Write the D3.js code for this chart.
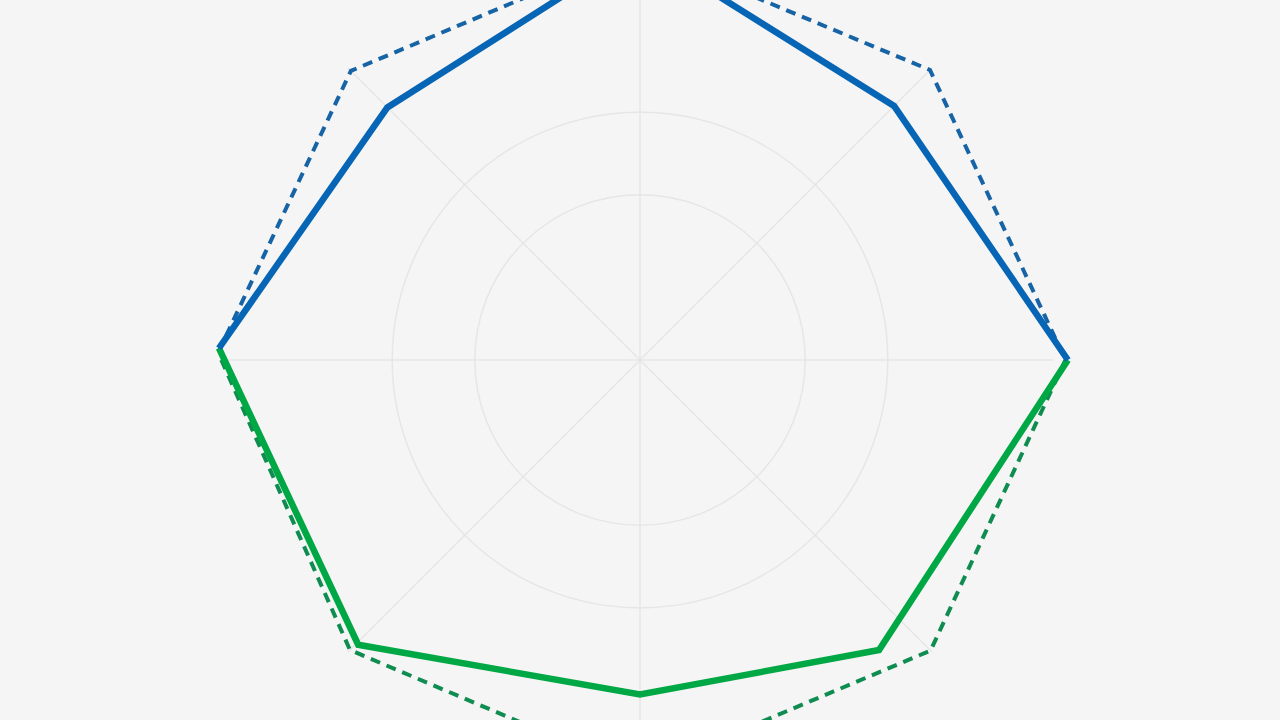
<!DOCTYPE html>
<meta charset="utf-8">
<style>
  html, body {
    margin: 0;
    padding: 0;
    background: #f5f5f5;
  }
  svg {
    display: block;
  }
</style>
<body>
<div class="radar"></div>
<script src="https://d3js.org/d3.v7.min.js"></script>
<script>

  // spokes and rings
  const axisAngles = [0, 45, 90, 135, 180, 225, 270, 315];
  const gridValues = [40, 60];
  const maxValue = 100;

  // upper half (blue), left -> top -> right, angle in degrees clockwise from top
  const blueAngles = [-88.4, -45, 0, 45, 90];
  const blueValues = [102, 86.5, 100, 87, 103.6];
  const blueTargetAngles = [-88.8, -45, 0, 45, 90];
  const blueTargetValues = [102, 99, 99.5, 99.3, 103];

  // lower half (green), right -> bottom -> left
  const greenAngles = [90, 140.5, 180, 224.7, 271.6];
  const greenValues = [103.6, 91, 81, 97, 102];
  const greenTargetAngles = [90, 135, 180, 225, 270.8];
  const greenTargetValues = [103, 99.5, 100, 99.3, 102];

  const width = 1280;
  const height = 720;
  const cx = 640;
  const cy = 360;

  const svg = d3.select(".radar").append("svg")
    .attr("width", width)
    .attr("height", height);

  svg.append("rect")
    .attr("width", width)
    .attr("height", height)
    .attr("fill", "#f5f5f5");

  const g = svg.append("g")
    .attr("transform", `translate(${cx}, ${cy})`);

  let r = d3.scaleLinear().domain([0, maxValue]).range([0, 413]);
  const rad = (deg) => deg * Math.PI / 180;

  // grid rings
  g.selectAll(".ring")
    .data(gridValues)
    .enter().append("circle")
    .attr("class", "ring")
    .attr("r", (d) => r(d))
    .attr("fill", "none")
    .attr("stroke", "#e6e6e6")
    .attr("stroke-width", 1.5);

  // spokes
  g.selectAll(".spoke")
    .data(axisAngles)
    .enter().append("line")
    .attr("class", "spoke")
    .attr("x1", 0)
    .attr("y1", 0)
    .attr("x2", (d) => r(maxValue) * Math.sin(rad(d)))
    .attr("y2", (d) => -r(maxValue) * Math.cos(rad(d)))
    .attr("stroke", "#e6e6e6")
    .attr("stroke-width", 1.5);

  const radial = d3.lineRadial()
    .angle((d) => rad(d[0]))
    .radius((d) => r(d[1]));

  const series = [
    {angles: blueTargetAngles, values: blueTargetValues, color: "#1663a6", width: 4, dash: "10,7"},
    {angles: greenTargetAngles, values: greenTargetValues, color: "#0f8c50", width: 4, dash: "10,7"},
    {angles: greenAngles, values: greenValues, color: "#00a845", width: 6.5, dash: null},
    {angles: blueAngles, values: blueValues, color: "#0665b4", width: 6.5, dash: null}
  ];

  g.selectAll(".series")
    .data(series)
    .enter().append("path")
    .attr("class", "series")
    .attr("d", (s) => radial(s.angles.map((a, i) => [a, s.values[i]])))
    .attr("fill", "none")
    .attr("stroke", (s) => s.color)
    .attr("stroke-width", (s) => s.width)
    .attr("stroke-dasharray", (s) => s.dash)
    .attr("stroke-linejoin", "miter");

</script>
